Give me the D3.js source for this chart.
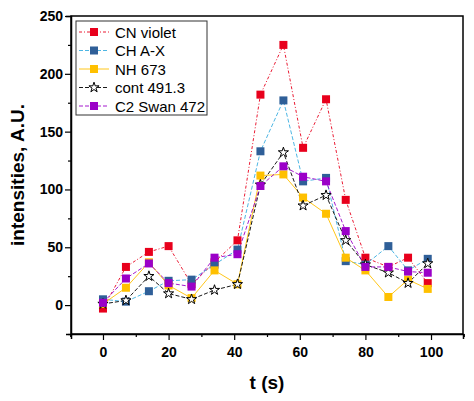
<!DOCTYPE html>
<html><head><meta charset="utf-8">
<script src="https://cdn.jsdelivr.net/npm/d3@7"></script>
<style>body{margin:0;background:#fff}text{font-family:Arial,"Liberation Sans",sans-serif}</style>
</head><body><div id="chart"></div>
<script>
const times = [0, 7, 14, 20, 27, 34, 41, 48, 55, 61, 68, 74, 80, 87, 93, 99]
const cnViolet = [-3, 33, 46, 51, 18, 37, 56, 182, 225, 136, 178, 91, 41, 33, 41, 19]
const chAX = [5, 3, 12, 21, 22, 35, 48, 133, 177, 107, 110, 38, 35, 51, 30, 40]
const nh673 = [1, 15, 37, 17, 6, 30, 18, 112, 113, 93, 79, 41, 30, 7, 22, 14]
const cont491 = [1, 4, 25, 10, 5, 13, 18, 104, 132, 86, 95, 56, 35, 28, 19, 36]
const c2Swan = [2, 23, 36, 19, 16, 41, 44, 103, 120, 111, 107, 64, 33, 33, 29, 28]
const xTicks = [0, 20, 40, 60, 80, 100]
const yTicks = [0, 50, 100, 150, 200, 250]

const series = [
  {name: 'CN violet', values: cnViolet, line: '#e8001c', marker: '#e8001c', dash: '3,2,1,2', shape: 'square'},
  {name: 'CH A-X', values: chAX, line: '#3aaee0', marker: '#2f5f98', dash: '4,2', shape: 'square'},
  {name: 'NH 673', values: nh673, line: '#ffc000', marker: '#ffc000', dash: null, shape: 'square'},
  {name: 'cont 491.3', values: cont491, line: '#000', marker: '#fff', dash: '4,2', shape: 'star'},
  {name: 'C2 Swan 472', values: c2Swan, line: '#9b00c8', marker: '#9b00c8', dash: '4,2', shape: 'square'}
]

const W = 474, H = 401
const margin = {top: 16, right: 11, bottom: 67, left: 71}
const width = W - margin.left - margin.right, height = H - margin.top - margin.bottom

const svg = d3.select('#chart').append('svg').attr('width', W).attr('height', H)
const g = svg.append('g').attr('transform', `translate(${margin.left},${margin.top})`)

const x = d3.scaleLinear().domain([-9.75, 109.75]).range([0, width])
const y = d3.scaleLinear().domain([-25, 250]).range([height, 0])

const xAxis = g.append('g').attr('transform', `translate(0,${height})`)
  .call(d3.axisBottom(x).tickValues(d3.range(-10, 111, 10)).tickSize(5).tickFormat(d => xTicks.includes(d) ? d : ''))
xAxis.selectAll('.tick line').attr('y2', d => xTicks.includes(d) ? 6 : 3)
const yAxis = g.append('g')
  .call(d3.axisLeft(y).tickValues(d3.range(-25, 251, 25)).tickSize(5).tickFormat(d => yTicks.includes(d) ? d : ''))
yAxis.selectAll('.tick line').attr('x2', d => yTicks.includes(d) ? -6 : -3)
svg.selectAll('.domain').attr('stroke-width', 1.5)
svg.selectAll('.tick line').attr('stroke-width', 1.2)
svg.selectAll('.tick text').style('font-size', '14px').style('font-weight', 'bold').attr('fill', '#000')
xAxis.selectAll('.tick text').attr('dy', '1.1em')
g.append('rect').attr('width', width).attr('height', height).attr('fill', 'none').attr('stroke', '#000').attr('stroke-width', 1.5)

svg.append('text').attr('x', margin.left + width / 2).attr('y', 389).attr('text-anchor', 'middle')
  .style('font-size', '19px').style('font-weight', 'bold').text('t (s)')
svg.append('text').attr('transform', `translate(24,${margin.top + height / 2}) rotate(-90)`).attr('text-anchor', 'middle')
  .style('font-size', '19px').style('font-weight', 'bold').text('intensities, A.U.')

const line = d3.line().x((d, i) => x(times[i])).y(d => y(d))
const star = d3.symbol().type(d3.symbolStar).size(32)

function marker(sel, s, cx, cy) {
  if (s.shape === 'star') {
    sel.append('path').attr('d', star).attr('transform', `translate(${cx},${cy})`)
      .attr('fill', '#fff').attr('stroke', '#000').attr('stroke-width', 1)
  } else {
    sel.append('rect').attr('x', cx - 4).attr('y', cy - 4).attr('width', 8).attr('height', 8).attr('fill', s.marker)
  }
}

series.forEach(s => {
  g.append('path').datum(s.values).attr('d', line).attr('fill', 'none')
    .attr('stroke', s.line).attr('stroke-width', 0.9).attr('stroke-dasharray', s.dash)
})
series.forEach(s => {
  const mg = g.append('g')
  s.values.forEach((v, i) => marker(mg, s, x(times[i]), y(v)))
})

const lg = svg.append('g').attr('transform', 'translate(76,21)')
lg.append('rect').attr('width', 131).attr('height', 94).attr('fill', '#fff').attr('stroke', '#333').attr('stroke-width', 1)
series.forEach((s, i) => {
  const ly = 11 + i * 18.5
  lg.append('line').attr('x1', 3).attr('x2', 33).attr('y1', ly).attr('y2', ly)
    .attr('stroke', s.line).attr('stroke-width', 0.9).attr('stroke-dasharray', s.dash)
  marker(lg, s, 18, ly)
  lg.append('text').attr('x', 39).attr('y', ly + 5.5).style('font-size', '15px').text(s.name)
})
</script></body></html>
